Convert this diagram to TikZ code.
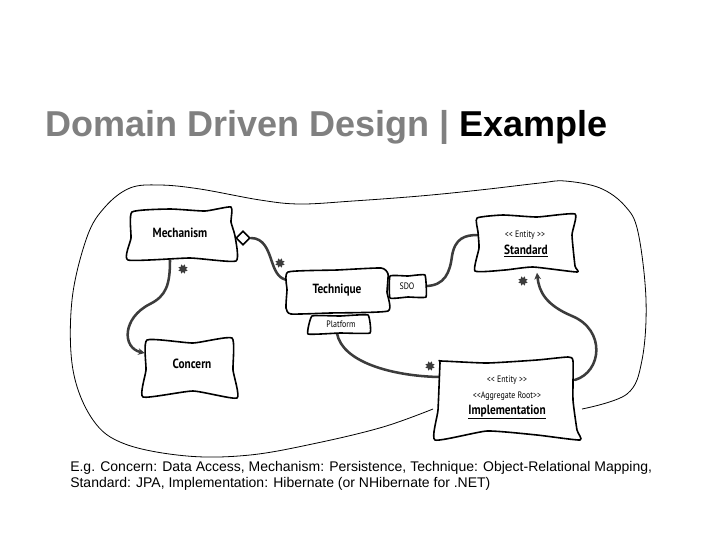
\documentclass[tikz,border=0pt]{standalone}
\usepackage{fontspec}
\setmainfont{Liberation Sans}
\newfontfamily\skfont[FakeStretch=0.85]{PT Sans}
\usetikzlibrary{shapes.geometric,arrows.meta,calc}
\newdimen\px \px=0.75pt
\definecolor{titlegray}{HTML}{808080}
\definecolor{conncol}{HTML}{3C3C3C}
\begin{document}
\begin{tikzpicture}[x=0.75pt,y=-0.75pt,
  boxline/.style={draw=black, line width=1.2pt, fill=white, line join=round},
  anchorbox/.style={draw=none, inner sep=0, rectangle},
  connector/.style={draw=conncol, line width=1.9pt, line cap=round},
  lbl/.style={font=\skfont\bfseries\fontsize{10}{12}\selectfont, inner sep=0},
  smalltxt/.style={font=\skfont\fontsize{7}{8}\selectfont, inner sep=0},
  starm/.style={star, star points=8, star point ratio=0.6, fill=conncol, draw=none, minimum size=6\px, inner sep=0},
  blob/.style={draw=black, line width=0.6pt},
  tip/.style={-{Stealth[length=5pt,width=5pt]}},
]
\useasboundingbox[fill=white] (0,0) rectangle (720,540);

% title
\node[anchor=base west, inner sep=0, font=\bfseries\fontsize{27}{30}\selectfont] (title) at (45,136)
  {\textcolor{titlegray}{Domain Driven Design |} Example};

% surrounding blob
\draw[blob] plot[smooth, tension=0.6] coordinates {(582,409) (627,394) (642,360) (646,300) (638,232) (625,206) (600,188) (565,181) (540,183) (480,190) (420,196) (353,201) (300,204) (260,200) (200,189) (160,185) (130,188) (105,207) (87,237) (72,300) (73,370) (93,420) (125,444) (187,456) (250,455) (317,443) (383,427) (433,409)};

% anchor nodes (invisible frames used by connectors)
\node[anchorbox, minimum width=106\px, minimum height=50\px] (mech) at (181,235) {};
\node[anchorbox, minimum width=92\px, minimum height=59\px] (conc) at (191,367) {};
\node[anchorbox, minimum width=102\px, minimum height=45\px] (tech) at (338,290) {};
\node[anchorbox, minimum width=36\px, minimum height=22\px] (sdo) at (407,286) {};
\node[anchorbox, minimum width=62\px, minimum height=18\px] (plat) at (339,324) {};
\node[anchorbox, minimum width=100\px, minimum height=57\px] (std) at (527,243) {};
\node[anchorbox, minimum width=143\px, minimum height=82\px] (impl) at (507,399) {};

% connectors
\draw[connector, tip] ($(mech.south)+(-11,0)$) .. controls (170,285) and (166,296) .. (150,304)
   .. controls (122,318) and (122,348) .. ($(conc.west)+(0,-14)$);
\node[diamond, draw=black, fill=white, line width=1.2pt, minimum width=14\px, minimum height=14\px, inner sep=0] (dia) at (243,238) {};
\draw[connector] (dia.east) .. controls (264,238) and (268,250) .. (272,262)
   .. controls (276,274) and (280,279) .. ($(tech.west)+(1,-10)$);
\draw[connector] (sdo.east) .. controls (445,286) and (450,272) .. (452,256)
   .. controls (455,238) and (465,235) .. ($(std.west)+(1,-8)$);
\draw[connector] ($(plat.south)+(-2,0)$) .. controls (342,362) and (392,376) .. ($(impl.west)+(4,-22)$);
\draw[connector, tip] ($(impl.east)+(-4,-19)$) .. controls (602,372) and (606,330) .. (572,316)
   .. controls (546,305) and (539,292) .. ($(std.south)+(10,1)$);

% sketchy boxes
\draw[boxline] plot[smooth cycle, tension=0.3] coordinates {(132,212) (170,209) (205,211) (231,207) (231,222) (235,236) (236,261) (190,258) (128,260) (131,238)};
\draw[boxline] plot[smooth cycle, tension=0.3] coordinates {(147,340) (193,343) (232,338) (233,370) (237,398) (193,391) (143,397) (146,370)};
\draw[boxline] plot[smooth cycle, tension=0.3] coordinates {(288,272) (337,270) (381,268) (388,274) (387,292) (388,311) (330,313) (291,314) (286,308) (287,290)};
\draw[boxline] plot[smooth cycle, tension=0.2] coordinates {(390,276) (408,276) (425,275) (426,297) (408,297) (390,298)};
\draw[boxline] plot[smooth cycle, tension=0.2] coordinates {(312,316) (340,316) (368,315) (370,333) (340,333) (308,334)};
\draw[boxline] plot[smooth cycle, tension=0.3] coordinates {(477,218) (503,215) (537,217) (575,214) (572,235) (575,266) (577,272) (533,267) (505,270) (475,271) (479,248) (478,232)};
\draw[boxline] plot[smooth cycle, tension=0.3] coordinates {(441,361) (487,363) (537,360) (568,357) (573,361) (573,400) (577,430) (580,440) (537,435) (487,431) (435,440) (438,410) (440,363)};

% multiplicity stars
\node[starm] (s1) at (183,269) {};
\node[starm] (s2) at (280,263) {};
\node[starm] (s3) at (523,281) {};
\node[starm] (s4) at (430,366) {};

% labels
\node[lbl] (mechT) at (180,233) {Mechanism};
\node[lbl] (concT) at (192,364) {Concern};
\node[lbl] (techT) at (337,290) {Technique};
\node[smalltxt] (sdoT) at (407,286) {SDO};
\node[smalltxt] (platT) at (341,324) {Platform};
\node[smalltxt] (stdA) at (525,235) {<{}< Entity >{}>};
\node[lbl] (stdB) at (526,251) {\underline{Standard}};
\node[smalltxt] (implA) at (507,380) {<{}< Entity >{}>};
\node[smalltxt] (implB) at (507,396) {<{}<Aggregate Root>{}>};
\node[lbl] (implC) at (507,412) {\underline{Implementation}};

% note
\node[anchor=base west, align=left, inner sep=0, font=\fontsize{10.5}{12}\selectfont] (note) at (70,487)
  {E.g. Concern: Data Access, Mechanism: Persistence, Technique: Object-Relational Mapping,\\
   Standard: JPA, Implementation: Hibernate (or NHibernate for .NET)};
\end{tikzpicture}
\end{document}
